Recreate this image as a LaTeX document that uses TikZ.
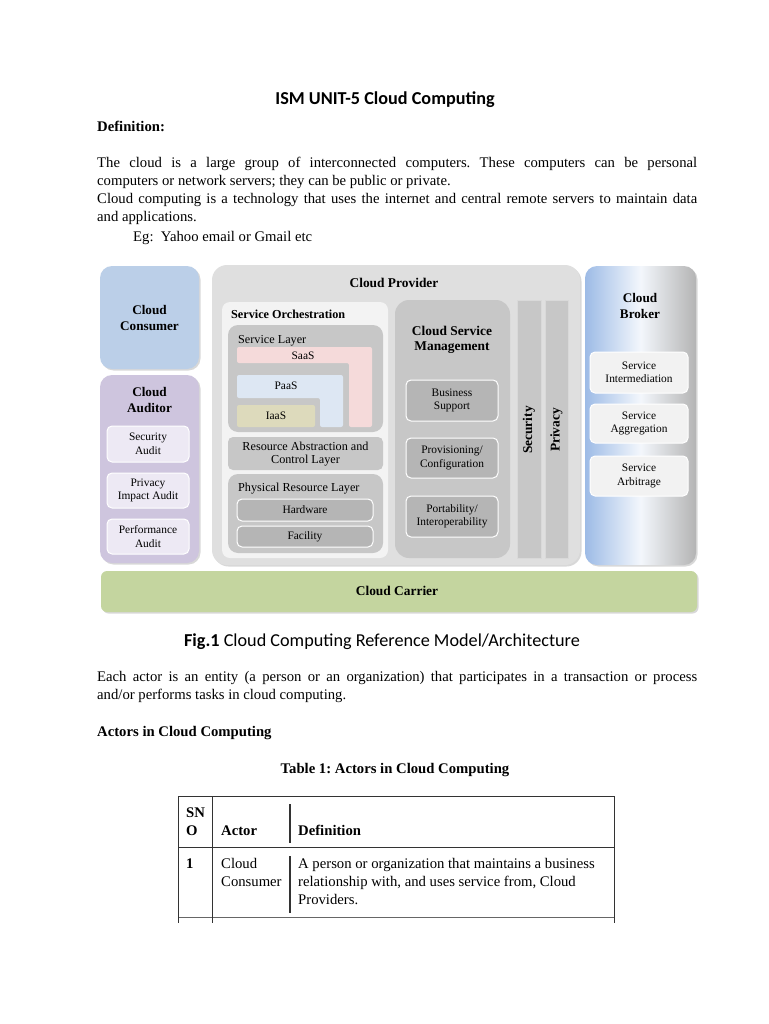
\documentclass[tikz,border=0pt]{standalone}
\usepackage{fontspec}
\setmainfont{Liberation Serif}
\newfontfamily\calibri{Carlito}
\usetikzlibrary{shadows}
\frenchspacing

\definecolor{consumerblue}{HTML}{BBCFE8}
\definecolor{auditorlilac}{HTML}{CEC5DE}
\definecolor{auditpale}{HTML}{EDE9F4}
\definecolor{providergray}{HTML}{DFDFDF}
\definecolor{orchwhite}{HTML}{F3F3F3}
\definecolor{layergray}{HTML}{C7C7C7}
\definecolor{innergray}{HTML}{B5B5B5}
\definecolor{saaspink}{HTML}{F5DADA}
\definecolor{paasblue}{HTML}{DDE7F3}
\definecolor{iaasbeige}{HTML}{DDDABC}
\definecolor{brokerblue}{HTML}{9DBBE6}
\definecolor{brokergray}{HTML}{B4B4B4}
\definecolor{brokerpale}{HTML}{F2F2F2}
\definecolor{carriergreen}{HTML}{C4D59F}

\tikzset{
  body/.style={font=\fontsize{14.7}{18}\selectfont, inner sep=0pt, anchor=base west},
  bodybf/.style={body, font=\fontsize{14.7}{18}\selectfont\bfseries},
  pagetitle/.style={font=\calibri\fontsize{18.2}{22}\selectfont\bfseries, inner sep=0pt, anchor=base},
  figcaption/.style={font=\calibri\fontsize{18.2}{22}\selectfont, inner sep=0pt, anchor=base},
  panel/.style={fill=#1, rounded corners=12pt},
  shadowed/.style={drop shadow={shadow xshift=1.5pt, shadow yshift=-1.5pt, opacity=.3}},
  bigbf/.style={font=\fontsize{13.2}{15.5}\selectfont\bfseries, align=center, inner sep=0pt},
  midbf/.style={font=\fontsize{13.4}{15}\selectfont\bfseries, align=center, inner sep=0pt},
  layertxt/.style={font=\fontsize{12.2}{13.5}\selectfont, align=center, inner sep=0pt},
  tile/.style={fill=#1, draw=white, line width=1pt, rounded corners=5pt, align=center,
    inner sep=0pt, font=\fontsize{11.4}{13.5}\selectfont},
  tabline/.style={line width=1pt, black!80}
}

\begin{document}
\begin{tikzpicture}[x=1pt,y=-1pt]
\useasboundingbox (0,0) rectangle (768,1024);
\fill[white] (0,0) rectangle (768,1024);

% heading and definition
\node[pagetitle] (title) at (385,105) {ISM UNIT-5 Cloud Computing};
\node[bodybf] (defhead) at (97,132) {Definition:};
\node[body] (def1) at (97,168) {\makebox[600pt][s]{The cloud is a large group of interconnected computers. These computers can be personal}};
\node[body] (def2) at (97,186) {computers or network servers; they can be public or private.};
\node[body] (def3) at (97,204) {\makebox[600pt][s]{Cloud computing is a technology that uses the internet and central remote servers to maintain data}};
\node[body] (def4) at (97,222) {and applications.};
\node[body] (eg) at (133,241) {Eg:\ \ Yahoo email or Gmail etc};

% cloud consumer
\path[panel=consumerblue, shadowed] (100,266) rectangle (199,369);
\node[bigbf] (consumer) at (149.5,318) {Cloud\\Consumer};

% cloud auditor
\path[panel=auditorlilac, shadowed] (100,375) rectangle (199,563);
\node[bigbf] (auditor) at (149.5,400) {Cloud\\Auditor};
\node[tile=auditpale, minimum width=82pt, minimum height=36pt] (secaudit) at (148,444) {Security\\Audit};
\node[tile=auditpale, minimum width=82pt, minimum height=35pt] (privaudit) at (148,490.5) {Privacy\\Impact Audit};
\node[tile=auditpale, minimum width=82pt, minimum height=35pt] (perfaudit) at (148,536.5) {Performance\\Audit};

% cloud provider
\path[panel=providergray, rounded corners=15pt, shadowed] (212,265) rectangle (580,565);
\node[midbf] (provider) at (394,283) {Cloud Provider};

% service orchestration
\path[fill=orchwhite, rounded corners=8pt] (222,302) rectangle (388,558);
\node[font=\fontsize{12.2}{13}\selectfont\bfseries, inner sep=0pt, anchor=west] (orch) at (231,314) {Service Orchestration};

\path[fill=layergray, rounded corners=10pt] (228,325) rectangle (383,432);
\node[layertxt, anchor=west] (servlayer) at (238,341) {Service Layer};
\path[fill=saaspink, rounded corners=2pt] (237,347) -- (372,347) -- (372,427) -- (349,427) -- (349,363) -- (237,363) -- cycle;
\node[layertxt, font=\fontsize{11.4}{12}\selectfont] (saas) at (303,355.5) {SaaS};
\path[fill=paasblue, rounded corners=2pt] (237,375) -- (343,375) -- (343,427) -- (320,427) -- (320,398) -- (237,398) -- cycle;
\node[layertxt, font=\fontsize{11.4}{12}\selectfont] (paas) at (286,386) {PaaS};
\path[fill=iaasbeige, rounded corners=2pt] (237,405) rectangle (315,427);
\node[layertxt, font=\fontsize{11.4}{12}\selectfont] (iaas) at (276,416) {IaaS};

\path[fill=layergray, rounded corners=5pt] (228,437) rectangle (383,470);
\node[layertxt] (abstraction) at (305.5,454) {Resource Abstraction and\\Control Layer};

\path[fill=layergray, rounded corners=10pt] (228,474) rectangle (383,553);
\node[layertxt, anchor=west] (physical) at (238,489) {Physical Resource Layer};
\node[tile=innergray, minimum width=136pt, minimum height=22pt] (hardware) at (305,510) {Hardware};
\node[tile=innergray, minimum width=136pt, minimum height=21pt] (facility) at (305,536.5) {Facility};

% cloud service management
\path[fill=layergray, rounded corners=14pt] (395,300) rectangle (510,558);
\node[midbf] (csm) at (452,340) {Cloud Service\\Management};
\node[tile=innergray, minimum width=92pt, minimum height=41pt] (business) at (452,400.5) {Business\\Support};
\node[tile=innergray, minimum width=92pt, minimum height=40pt] (provisioning) at (452,458) {Provisioning/\\Configuration};
\node[tile=innergray, minimum width=92pt, minimum height=41pt] (portability) at (452,516.5) {Portability/\\Interoperability};

% security and privacy
\path[fill=layergray, draw=white!85!black, line width=.8pt] (517,300) rectangle (541,558);
\path[fill=layergray, draw=white!85!black, line width=.8pt] (545,300) rectangle (568,558);
\node[midbf, rotate=90] (security) at (529,430) {Security};
\node[midbf, rotate=90] (privacy) at (556.5,430) {Privacy};

% cloud broker
\path[rounded corners=12pt, left color=brokerblue, right color=brokergray, middle color=white!88!brokerblue, shadowed] (585,266) rectangle (696,565);
\node[bigbf] (broker) at (640,306) {Cloud\\Broker};
\node[tile=brokerpale, minimum width=98pt, minimum height=41pt] (intermediation) at (639,372.5) {Service\\Intermediation};
\node[tile=brokerpale, minimum width=98pt, minimum height=39pt] (aggregation) at (639,423.5) {Service\\Aggregation};
\node[tile=brokerpale, minimum width=98pt, minimum height=40pt] (arbitrage) at (639,476) {Service\\Arbitrage};

% cloud carrier
\path[fill=carriergreen, rounded corners=6pt, shadowed] (101,571) rectangle (697,612);
\node[midbf] (carrier) at (397,591) {Cloud Carrier};

% caption and actors
\node[figcaption] (fig) at (382,646) {\textbf{Fig.1} Cloud Computing Reference Model/Architecture};
\node[body] (actor1) at (97,681) {\makebox[600pt][s]{Each actor is an entity (a person or an organization) that participates in a transaction or process}};
\node[body] (actor2) at (97,699) {and/or performs tasks in cloud computing.};
\node[bodybf] (actorshead) at (97,736) {Actors in Cloud Computing};
\node[bodybf, anchor=base] (tabtitle) at (395,773) {Table 1: Actors in Cloud Computing};

% table
\draw[tabline] (178,796) -- (614,796);
\draw[tabline] (178,847) -- (614,847);
\draw[tabline, black!60, line width=.7pt] (178,917) -- (614,917);
\draw[tabline] (178,796) -- (178,923);
\draw[tabline] (212,796) -- (212,923);
\draw[tabline] (614,796) -- (614,923);
\draw[tabline, line width=1.5pt] (290,804) -- (290,843);
\draw[tabline, line width=1.5pt] (290,856) -- (290,913);
\node[bodybf] (sn1) at (186,817) {SN};
\node[bodybf] (sn2) at (186,835) {O};
\node[bodybf] (actorcol) at (221,835) {Actor};
\node[bodybf] (defcol) at (298,835) {Definition};
\node[bodybf] (row1) at (186,868) {1};
\node[body] (cons1) at (221,868) {Cloud};
\node[body] (cons2) at (221,886) {Consumer};
\node[body] (rowdef1) at (298,868) {A person or organization that maintains a business};
\node[body] (rowdef2) at (298,886) {relationship with, and uses service from, Cloud};
\node[body] (rowdef3) at (298,904) {Providers.};
\end{tikzpicture}
\end{document}
